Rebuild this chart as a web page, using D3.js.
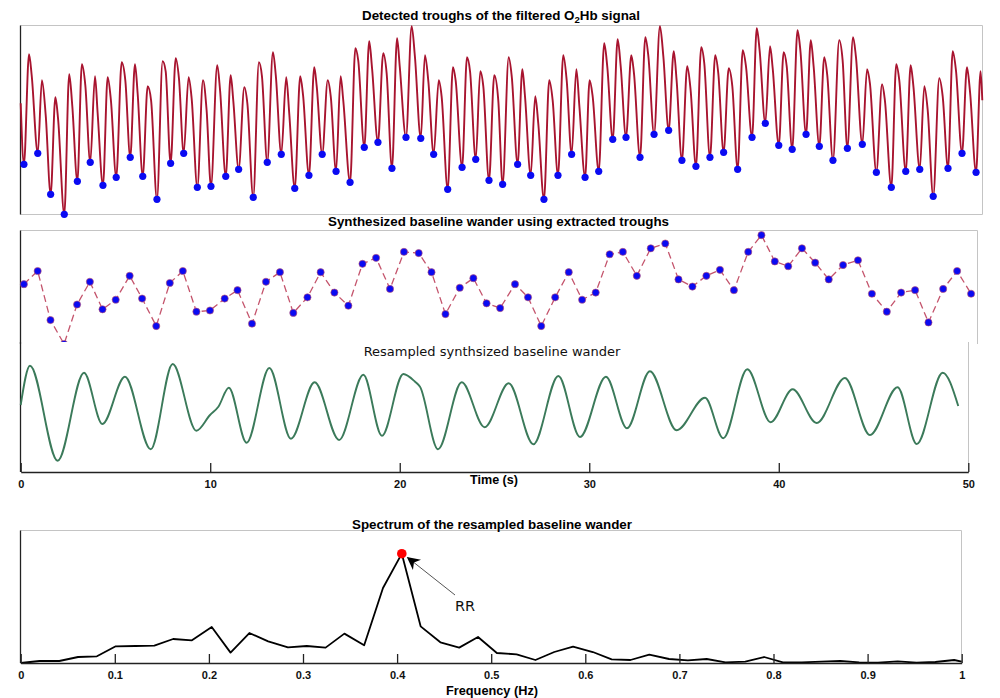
<!DOCTYPE html>
<html>
<head>
<meta charset="utf-8">
<script src="https://cdn.jsdelivr.net/npm/d3@7"></script>
<style>
  body { margin: 0; background: #fff; }
  svg { display: block; font-family: "Liberation Sans", Arial, sans-serif; }
  .title { font-weight: bold; font-size: 12.5px; fill: #000; }
  .axis text { font-family: "Liberation Sans", Arial, sans-serif; font-weight: bold; font-size: 11px; fill: #111; }
  .axis path, .axis line { stroke: #222; stroke-width: 1.3px; }
</style>
</head>
<body>
<svg id="chart" width="1000" height="698"></svg>
<script>
// ---- O2Hb signal, one entry per cardiac cycle (time in s, value in a.u.) ----
const troughTime = [0.17, 0.90, 1.58, 2.30, 2.99, 3.67, 4.34, 5.04, 5.78, 6.44,
    7.19, 7.91, 8.60, 9.32, 10.04, 10.82, 11.50, 12.27, 13.01, 13.75,
    14.46, 15.21, 15.91, 16.64, 17.38, 18.13, 18.85, 19.59, 20.33, 21.11,
    21.79, 22.53, 23.29, 24.01, 24.71, 25.43, 26.22, 26.91, 27.61, 28.35,
    29.07, 29.78, 30.50, 31.24, 31.94, 32.68, 33.42, 34.19, 34.89, 35.63,
    36.37, 37.09, 37.83, 38.59, 39.29, 40.00, 40.71, 41.44, 42.14, 42.86,
    43.62, 44.41, 45.15, 45.94, 46.70, 47.44, 48.15, 48.93, 49.67, 50.41];
const troughValue = [0.50, 0.61, 0.20, 0.00, 0.33, 0.52, 0.29, 0.37, 0.57, 0.38,
    0.15, 0.51, 0.61, 0.27, 0.28, 0.38, 0.45, 0.17, 0.52, 0.60,
    0.26, 0.39, 0.60, 0.43, 0.32, 0.67, 0.72, 0.46, 0.77, 0.76,
    0.60, 0.25, 0.47, 0.55, 0.34, 0.30, 0.50, 0.39, 0.15, 0.39,
    0.60, 0.37, 0.43, 0.75, 0.77, 0.57, 0.80, 0.84, 0.54, 0.48,
    0.57, 0.62, 0.45, 0.77, 0.91, 0.69, 0.65, 0.80, 0.68, 0.54,
    0.66, 0.70, 0.42, 0.27, 0.43, 0.45, 0.18, 0.46, 0.61, 0.42];
const peakTime = [0.44, 1.12, 1.83, 2.56, 3.23, 3.92, 4.59, 5.33, 6.03, 6.70,
    7.49, 8.18, 8.86, 9.62, 10.37, 11.08, 11.80, 12.57, 13.31, 14.01,
    14.75, 15.49, 16.20, 16.88, 17.66, 18.39, 19.13, 19.86, 20.63, 21.33,
    22.06, 22.81, 23.55, 24.25, 24.99, 25.75, 26.47, 27.15, 27.89, 28.63,
    29.32, 30.02, 30.79, 31.50, 32.22, 32.96, 33.73, 34.46, 35.17, 35.91,
    36.65, 37.36, 38.10, 38.84, 39.54, 40.26, 40.99, 41.69, 42.40, 43.19,
    43.92, 44.66, 45.45, 46.20, 46.96, 47.68, 48.47, 49.18, 49.93, 50.65];
const peakValue = [1.60, 1.34, 1.17, 1.40, 1.50, 1.38, 1.37, 1.52, 1.50, 1.28,
    1.53, 1.56, 1.37, 1.34, 1.49, 1.39, 1.27, 1.52, 1.62, 1.37,
    1.38, 1.47, 1.34, 1.38, 1.66, 1.73, 1.61, 1.76, 1.88, 1.59,
    1.34, 1.47, 1.57, 1.43, 1.39, 1.57, 1.45, 1.18, 1.34, 1.59,
    1.45, 1.34, 1.71, 1.75, 1.59, 1.77, 1.88, 1.63, 1.48, 1.67,
    1.59, 1.46, 1.64, 1.86, 1.68, 1.62, 1.84, 1.74, 1.57, 1.74,
    1.77, 1.45, 1.30, 1.50, 1.49, 1.28, 1.36, 1.63, 1.47, 1.43];
const notchTime = [0.58, 1.32, 1.97, 2.72, 3.41, 4.06, 4.76, 5.52, 6.17, 6.88,
    7.65, 8.35, 9.02, 9.81, 10.52, 11.22, 11.96, 12.73, 13.46, 14.17,
    14.90, 15.62, 16.36, 17.02, 17.81, 18.54, 19.31, 20.00, 20.80, 21.51,
    22.21, 22.95, 23.71, 24.41, 25.20, 25.91, 26.61, 27.31, 28.07, 28.81,
    29.48, 30.18, 30.95, 31.66, 32.36, 33.12, 33.91, 34.61, 35.35, 36.07,
    36.81, 37.55, 38.27, 38.99, 39.68, 40.42, 41.14, 41.84, 42.56, 43.37,
    44.07, 44.81, 45.60, 46.36, 47.10, 47.86, 48.65, 49.35, 50.09, 50.74];
const notchValue = [1.39, 0.99, 0.96, 1.09, 1.29, 1.01, 1.14, 1.34, 1.21, 1.14,
    1.43, 1.36, 1.16, 1.04, 1.24, 1.13, 1.11, 1.38, 1.39, 1.01,
    1.19, 1.28, 1.18, 1.14, 1.54, 1.46, 1.41, 1.48, 1.58, 1.33,
    1.18, 1.34, 1.43, 1.28, 1.14, 1.38, 1.18, 0.91, 1.14, 1.34,
    1.08, 1.18, 1.48, 1.48, 1.41, 1.58, 1.58, 1.34, 1.24, 1.51,
    1.41, 1.28, 1.48, 1.64, 1.46, 1.48, 1.64, 1.48, 1.39, 1.54,
    1.58, 1.31, 1.14, 1.34, 1.29, 1.04, 1.18, 1.44, 1.23, 1.14];
const signalStart = [0, 1.11];

// ---- resampled baseline wander (turning points) ----
const bwTime = [0, 0.49, 1.95, 3.34, 4.31, 5.50, 6.86, 8.02, 9.27, 9.99,
    10.43, 10.98, 11.92, 13.12, 14.26, 15.51, 16.80, 18.08, 19.06, 20.19,
    20.81, 21.07, 22.02, 23.27, 24.48, 25.75, 27.05, 28.37, 29.51, 30.88,
    31.99, 33.20, 34.61, 36.11, 37.07, 38.34, 39.57, 40.73, 42.00, 43.49,
    44.81, 46.27, 47.28, 48.65, 49.47];
const bwValue = [0.52, 2.09, -1.71, 1.81, -0.24, 1.65, -1.25, 2.16, -0.51, 0.12,
    0.45, 1.21, -0.99, 2.00, -0.83, 1.43, -0.88, 1.73, -0.71, 1.76,
    1.45, 1.25, -1.25, 1.43, -0.37, 1.39, -1.05, 1.68, -0.76, 1.65,
    -0.41, 1.87, -0.49, 0.81, -0.81, 1.95, -0.17, 1.15, -0.20, 1.60,
    -0.68, 1.23, -1.04, 1.81, 0.48];

// ---- spectrum ----
const specFreq = [0, 0.020, 0.041, 0.061, 0.081, 0.101, 0.122, 0.142, 0.162, 0.182,
    0.203, 0.223, 0.243, 0.263, 0.284, 0.304, 0.324, 0.344, 0.365, 0.385,
    0.405, 0.425, 0.446, 0.466, 0.486, 0.506, 0.527, 0.547, 0.567, 0.587,
    0.608, 0.628, 0.648, 0.668, 0.689, 0.709, 0.729, 0.749, 0.770, 0.790,
    0.810, 0.830, 0.851, 0.871, 0.891, 0.911, 0.932, 0.952, 0.972, 0.992, 1.0];
const specAmp = [0.003, 0.023, 0.023, 0.063, 0.07, 0.17, 0.173, 0.177, 0.243, 0.23,
    0.363, 0.107, 0.303, 0.22, 0.16, 0.173, 0.157, 0.297, 0.18, 0.753,
    1.097, 0.37, 0.21, 0.157, 0.263, 0.103, 0.09, 0.033, 0.113, 0.167,
    0.113, 0.04, 0.033, 0.087, 0.043, 0.03, 0.043, 0.01, 0.017, 0.063,
    0.01, 0.01, 0.017, 0.023, 0.01, 0.007, 0.02, 0.007, 0.013, 0.033, 0.017];
const peakIndex = 20;

const timeTicks = [0, 10, 20, 30, 40, 50];
const freqTicks = [0, 0.1, 0.2, 0.3, 0.4, 0.5, 0.6, 0.7, 0.8, 0.9, 1];

const svg = d3.select("#chart");

// defs: arrowhead
svg.append("defs").append("marker")
    .attr("id", "arrowHead")
    .attr("viewBox", "0 0 10 10")
    .attr("refX", 9).attr("refY", 5)
    .attr("markerWidth", 16).attr("markerHeight", 13)
    .attr("markerUnits", "userSpaceOnUse")
    .attr("orient", "auto")
    .append("path")
    .attr("d", "M0,0 L10,5 L0,10 L3,5 Z")
    .attr("fill", "#000");

// helper to draw a box with black left edge and grey other edges
const drawBox = (x0, y0, x1, y1, sides) => {
    if (sides.includes("t")) svg.append("line").attr("x1", x0).attr("x2", x1).attr("y1", y0).attr("y2", y0).attr("stroke", "#c4c4c4");
    if (sides.includes("r")) svg.append("line").attr("x1", x1).attr("x2", x1).attr("y1", y0).attr("y2", y1).attr("stroke", "#c4c4c4");
    if (sides.includes("b")) svg.append("line").attr("x1", x0).attr("x2", x1).attr("y1", y1).attr("y2", y1).attr("stroke", "#c4c4c4");
    if (sides.includes("l")) svg.append("line").attr("x1", x0).attr("x2", x0).attr("y1", y0).attr("y2", y1).attr("stroke", "#222").attr("stroke-width", 1.3);
};

// bold title, stretched to the width it has in the original figure
const addTitle = (x, y, width, txt) => {
    return svg.append("text").attr("class", "title")
        .attr("x", x).attr("y", y).attr("text-anchor", "middle")
        .attr("textLength", width).attr("lengthAdjust", "spacingAndGlyphs")
        .text(txt);
};

// ================= Panel 1: filtered O2Hb with troughs =================
const x1 = d3.scaleLinear().domain([0, 50.74]).range([20.7, 982.3]);
const y1 = d3.scaleLinear().domain([0, 1.89]).range([214.3, 25.3]);

drawBox(20.5, 25.5, 982.5, 214.5, "trbl");

// merge trough / peak / notch into one waveform
let signal = [signalStart];
for (let i = 0; i < troughTime.length; i++) {
    signal.push([troughTime[i], troughValue[i]]);
    signal.push([peakTime[i], peakValue[i]]);
    signal.push([notchTime[i], notchValue[i]]);
}

svg.append("path")
    .datum(signal)
    .attr("fill", "none")
    .attr("stroke", "#a8142f")
    .attr("stroke-width", 1.9)
    .attr("d", d3.line().x(d => x1(d[0])).y(d => y1(d[1])).curve(d3.curveMonotoneX));

svg.append("g").selectAll("circle")
    .data(troughTime)
    .enter()
    .append("circle")
    .attr("cx", d => x1(d))
    .attr("cy", (d, i) => y1(troughValue[i]))
    .attr("r", 3.6)
    .attr("fill", "#0a0af2");

const t1 = svg.append("text").attr("class", "title").attr("x", 501).attr("y", 20).attr("text-anchor", "middle")
    .attr("textLength", 278).attr("lengthAdjust", "spacingAndGlyphs");
t1.append("tspan").text("Detected troughs of the filtered O");
t1.append("tspan").attr("font-size", "9px").attr("dy", 3).text("2");
t1.append("tspan").attr("dy", -3).text("Hb signal");

// ================= Panel 2: synthesized baseline wander =================
const x2 = d3.scaleLinear().domain([0, 50.74]).range([20.7, 977.3]);
const y2 = d3.scaleLinear().domain([0, 0.947]).range([344, 230.7]);

drawBox(20.5, 230.5, 977.5, 344, "trl");

svg.append("path")
    .datum(troughTime)
    .attr("fill", "none")
    .attr("stroke", "#c4546c")
    .attr("stroke-width", 1.3)
    .attr("stroke-dasharray", "7,4")
    .attr("d", d3.line().x(d => x2(d)).y((d, i) => y2(troughValue[i])));

svg.append("g").selectAll("circle")
    .data(troughTime)
    .enter()
    .append("circle")
    .attr("cx", d => x2(d))
    .attr("cy", (d, i) => y2(troughValue[i]))
    .attr("r", 3.6)
    .attr("fill", "#0a0af2")
    .attr("stroke", "#c4546c")
    .attr("stroke-width", 0.6);

addTitle(498.5, 226, 341, "Synthesized baseline wander using extracted troughs");

// ================= Panel 3: resampled baseline wander =================
const x3 = d3.scaleLinear().domain([0, 50]).range([20.7, 968.3]);
const y3 = d3.scaleLinear().domain([-2, 2]).range([468, 368]);

// white background hides the lower part of panel 2
svg.append("rect").attr("x", 21.5).attr("y", 342).attr("width", 947).attr("height", 130).attr("fill", "#fff");
drawBox(20.5, 342, 968.5, 472, "rl");

svg.append("path")
    .datum(bwTime)
    .attr("fill", "none")
    .attr("stroke", "#3b7a5a")
    .attr("stroke-width", 1.9)
    .attr("d", d3.line().x(d => x3(d)).y((d, i) => y3(bwValue[i])).curve(d3.curveMonotoneX));

svg.append("g")
    .attr("class", "axis")
    .attr("transform", "translate(0,472)")
    .call(d3.axisBottom(x3).tickValues(timeTicks).tickFormat(d => d)
        .tickSizeInner(-9).tickSizeOuter(0).tickPadding(8));

svg.append("text").attr("x", 492).attr("y", 356).attr("text-anchor", "middle")
    .attr("font-family", "DejaVu Sans").attr("font-size", "13px").attr("fill", "#111")
    .text("Resampled synthsized baseline wander");

addTitle(494, 484, 48, "Time (s)");

// ================= Panel 4: spectrum =================
const x4 = d3.scaleLinear().domain([0, 1]).range([20.7, 961.7]);
const y4 = d3.scaleLinear().domain([0, 1.327]).range([663.3, 530.7]);

drawBox(20.5, 530.5, 961.5, 663, "trl");

svg.append("path")
    .datum(specFreq)
    .attr("fill", "none")
    .attr("stroke", "#000")
    .attr("stroke-width", 1.8)
    .attr("stroke-linejoin", "round")
    .attr("d", d3.line().x(d => x4(d)).y((d, i) => y4(specAmp[i])));

svg.append("g")
    .attr("class", "axis")
    .attr("transform", "translate(0,663)")
    .call(d3.axisBottom(x4).tickValues(freqTicks).tickFormat(d => d)
        .tickSizeInner(-9).tickSizeOuter(0).tickPadding(8.5));

// RR peak marker and annotation
const px = x4(specFreq[peakIndex]), py = y4(specAmp[peakIndex]);
svg.append("circle").attr("cx", px).attr("cy", py).attr("r", 4.8).attr("fill", "#f00");

svg.append("line")
    .attr("x1", 455).attr("y1", 595)
    .attr("x2", px + 6).attr("y2", py + 4)
    .attr("stroke", "#555").attr("stroke-width", 1)
    .attr("marker-end", "url(#arrowHead)");

svg.append("text").attr("x", 455).attr("y", 611).attr("font-family", "DejaVu Sans")
    .attr("font-size", "14.5px").attr("fill", "#111").text("RR");

addTitle(492, 529, 280, "Spectrum of the resampled baseline wander");
addTitle(492, 695, 92, "Frequency (Hz)");
</script>
</body>
</html>
